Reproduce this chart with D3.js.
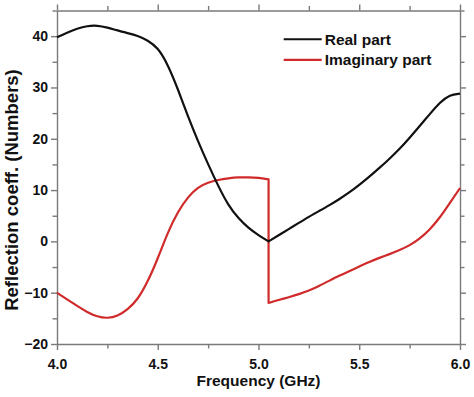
<!DOCTYPE html>
<html>
<head>
<meta charset="utf-8">
<script src="https://cdn.jsdelivr.net/npm/d3@7"></script>
<style>
  body { margin: 0; background: #fff; }
  text { font-family: "Liberation Sans", Arial, sans-serif; font-weight: bold; fill: #111; }
  .axis path, .axis line { stroke: #7a7a7a; stroke-width: 1.4; }
  .line { fill: none; stroke-width: 2.2; stroke-linejoin: round; }
</style>
</head>
<body>
<div id="graph"></div>
<script>
// frequency (GHz), split at the jump near 5.05 GHz
const freqLow  = [4.00, 4.05, 4.10, 4.15, 4.20, 4.25, 4.30, 4.35, 4.40, 4.45, 4.50,
                  4.55, 4.60, 4.65, 4.70, 4.75, 4.80, 4.85, 4.90, 4.95, 5.00, 5.05];
const freqHigh = [5.05, 5.10, 5.15, 5.20, 5.25, 5.30, 5.35, 5.40, 5.45, 5.50,
                  5.55, 5.60, 5.65, 5.70, 5.75, 5.80, 5.85, 5.90, 5.95, 6.00];

const realLow  = [39.8, 40.7, 41.5, 42.0, 42.1, 41.7, 41.1, 40.6, 40.1, 39.2, 37.8,
                  34.5, 29.7, 24.3, 19.5, 15.0, 10.8, 7.0, 4.5, 2.6, 1.2, 0.0];
const realHigh = [0.0, 1.2, 2.4, 3.6, 4.8, 5.9, 7.0, 8.2, 9.5, 11.0,
                  12.6, 14.3, 16.1, 18.0, 20.2, 22.5, 24.8, 27.1, 28.6, 28.8];

const imagLow  = [-10.0, -11.3, -12.6, -13.8, -14.7, -15.0, -14.6, -13.3, -11.4, -7.9, -3.4,
                  1.8, 5.8, 8.7, 10.6, 11.5, 12.0, 12.3, 12.5, 12.5, 12.4, 12.1];
const imagHigh = [-12.0, -11.4, -10.9, -10.3, -9.6, -8.7, -7.7, -6.7, -5.8, -4.9,
                  -4.0, -3.2, -2.5, -1.7, -0.8, 0.5, 2.3, 4.6, 7.5, 10.4];

const xTicks = [4.0, 4.5, 5.0, 5.5, 6.0];
const yTicks = [-20, -10, 0, 10, 20, 30, 40];
const seriesNames = ['Real part', 'Imaginary part'];
const colours = ['#111111', '#d12a2a'];

const margin = {top: 10.5, right: 14, bottom: 53, left: 57};
const width = 474 - margin.left - margin.right;
const height = 397 - margin.top - margin.bottom;

var xScale = d3.scaleLinear().domain([4, 6]).range([0, width]);
var yScale = d3.scaleLinear().domain([-20, 45]).range([height, 0]);

var svg = d3.select('#graph')
    .append('svg')
    .attr('width', 474)
    .attr('height', 397)
    .append('g')
    .attr('transform', 'translate(' + margin.left + ',' + margin.top + ')');

var xMinor = d3.range(4, 6.01, 0.25).filter(v => Math.abs(v * 2 - Math.round(v * 2)) > 0.01);
var yMinor = d3.range(-15, 46, 10);

// minor ticks first
function minor(axisFn, scale, vals, tr) {
    svg.append('g').attr('class', 'axis').attr('transform', tr)
        .call(axisFn(scale).tickValues(vals).tickSize(4.5).tickFormat(''))
        .select('.domain').remove();
}
minor(d3.axisBottom, xScale, xMinor, 'translate(0,' + height + ')');
minor(d3.axisTop, xScale, xMinor, 'translate(0,0)');
minor(d3.axisLeft, yScale, yMinor, 'translate(0,0)');
minor(d3.axisRight, yScale, yMinor, 'translate(' + width + ',0)');

svg.append('g').attr('class', 'axis')
    .attr('transform', 'translate(0,' + height + ')')
    .call(d3.axisBottom(xScale).tickValues(xTicks).tickSize(6).tickPadding(9).tickSizeOuter(0)
        .tickFormat(d3.format('.1f')))
    .selectAll('text').style('font-size', '14px');
svg.append('g').attr('class', 'axis')
    .call(d3.axisTop(xScale).tickValues(xTicks).tickSize(6).tickSizeOuter(0).tickFormat(''));
svg.append('g').attr('class', 'axis')
    .call(d3.axisLeft(yScale).tickValues(yTicks).tickSize(6).tickPadding(3).tickSizeOuter(0))
    .selectAll('text').style('font-size', '14px');
svg.append('g').attr('class', 'axis')
    .attr('transform', 'translate(' + width + ',0)')
    .call(d3.axisRight(yScale).tickValues(yTicks).tickSize(6).tickSizeOuter(0).tickFormat(''));

svg.selectAll('.axis text').attr('fill', '#111');

var line = d3.line()
    .x(d => xScale(d[0]))
    .y(d => yScale(d[1]))
    .curve(d3.curveBasis);

function joined(fa, va, fb, vb) {
    var a = line(fa.map((f, i) => [f, va[i]]));
    var b = line(fb.map((f, i) => [f, vb[i]]));
    return a + b.replace(/^M/, 'L');
}

var lines = svg.append('g').attr('class', 'data');
lines.append('path').attr('class', 'line')
    .attr('d', joined(freqLow, imagLow, freqHigh, imagHigh))
    .style('stroke', colours[1]);
lines.append('path').attr('class', 'line')
    .attr('d', joined(freqLow, realLow, freqHigh, realHigh))
    .style('stroke', colours[0]);

// legend
var legend = svg.append('g').attr('transform', 'translate(' + xScale(5.125) + ',' + yScale(39.4) + ')');
seriesNames.forEach(function(name, i) {
    legend.append('line')
        .attr('x1', 0).attr('x2', 38)
        .attr('y1', i * 20.7).attr('y2', i * 20.7)
        .style('stroke', colours[i]).style('stroke-width', 2.2);
    legend.append('text')
        .attr('x', 41).attr('y', i * 20.7)
        .attr('dy', '0.36em')
        .style('font-size', '15.5px')
        .text(name);
});

// axis titles
svg.append('text')
    .attr('x', width / 2).attr('y', height + 42)
    .attr('text-anchor', 'middle')
    .style('font-size', '15.5px')
    .text('Frequency (GHz)');
svg.append('text')
    .attr('transform', 'translate(' + (18 - margin.left) + ',' + (190 - margin.top) + ') rotate(-90)')
    .attr('text-anchor', 'middle')
    .style('font-size', '18.5px')
    .text('Reflection coeff. (Numbers)');
</script>
</body>
</html>
